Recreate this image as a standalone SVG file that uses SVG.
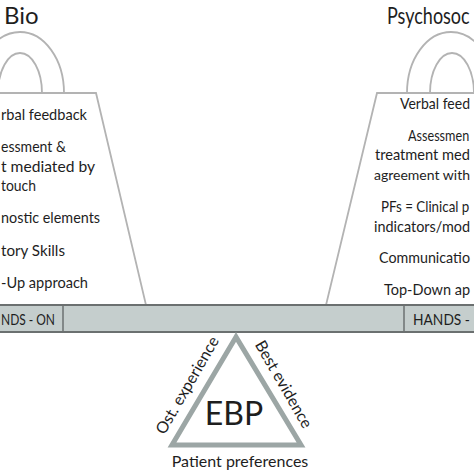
<svg xmlns="http://www.w3.org/2000/svg" width="474" height="474" viewBox="0 0 474 474">
<style>
  .outline { fill: #ffffff; stroke: #b3b3b3; stroke-width: 1.8; }
  .handle { fill: none; stroke: #b3b3b3; stroke-width: 1.8; }
  .t { font-family: Lato, "Liberation Sans", sans-serif; font-size: 15px; fill: #1e1e1e; }
  .title { font-family: Lato, "Liberation Sans", sans-serif; font-size: 24px; fill: #1e1e1e; }
  .beam { fill: #c5cecd; stroke: #6b7070; stroke-width: 2; }
  .div { stroke: #6b7070; stroke-width: 1.5; }
  .tri { fill: #ffffff; stroke: #9ca6a5; stroke-width: 5; stroke-linejoin: miter; }
</style>
<rect x="0" y="0" width="474" height="474" fill="#ffffff"/>

<g id="weight-bio">
  <path class="handle" d="M -24 93 A 44 61 0 0 1 64 93"/>
  <path class="handle" d="M -2 93 A 22 40 0 0 1 42 93"/>
  <polygon class="outline" points="-5,93 96,93 146,305 -5,305"/>
  <text class="title" x="4" y="24">Bio</text>
  <text class="t" x="1" y="120" textLength="86" lengthAdjust="spacingAndGlyphs">rbal feedback</text>
  <text class="t" x="1" y="152" textLength="65" lengthAdjust="spacingAndGlyphs">essment &amp;</text>
  <text class="t" x="1" y="172" textLength="94" lengthAdjust="spacingAndGlyphs">t mediated by</text>
  <text class="t" x="1" y="191" textLength="35" lengthAdjust="spacingAndGlyphs">touch</text>
  <text class="t" x="1" y="223" textLength="99" lengthAdjust="spacingAndGlyphs">nostic elements</text>
  <text class="t" x="1" y="256" textLength="64" lengthAdjust="spacingAndGlyphs">tory Skills</text>
  <text class="t" x="1" y="288" textLength="87" lengthAdjust="spacingAndGlyphs">-Up approach</text>
</g>

<g id="weight-psychosocial">
  <path class="handle" d="M 407 93 A 44 61 0 0 1 495 93"/>
  <path class="handle" d="M 430 93 A 22 40 0 0 1 474 93"/>
  <polygon class="outline" points="377,93 479,93 479,305 326,305"/>
  <text class="title" x="0" y="0" transform="translate(387,24) scale(0.78,1)" textLength="106" lengthAdjust="spacingAndGlyphs">Psychosoc</text>
  <text class="t" x="400" y="109" textLength="70" lengthAdjust="spacingAndGlyphs">Verbal feed</text>
  <text class="t" x="0" y="0" transform="translate(408,141) scale(0.9,1)" textLength="68" lengthAdjust="spacingAndGlyphs">Assessmen</text>
  <text class="t" x="375" y="160" textLength="95" lengthAdjust="spacingAndGlyphs">treatment med</text>
  <text class="t" x="374" y="180" textLength="96" lengthAdjust="spacingAndGlyphs" style="font-size:14px">agreement with</text>
  <text class="t" x="0" y="0" transform="translate(381,212) scale(0.92,1)" textLength="96" lengthAdjust="spacingAndGlyphs">PFs = Clinical p</text>
  <text class="t" x="374" y="232" textLength="96" lengthAdjust="spacingAndGlyphs">indicators/mod</text>
  <text class="t" x="379" y="263" textLength="91" lengthAdjust="spacingAndGlyphs">Communicatio</text>
  <text class="t" x="384" y="295" textLength="86" lengthAdjust="spacingAndGlyphs">Top-Down ap</text>
</g>

<g id="beam">
  <rect class="beam" x="-5" y="305" width="484" height="27"/>
  <line class="div" x1="63" y1="305" x2="63" y2="332"/>
  <line class="div" x1="404" y1="305" x2="404" y2="332"/>
  <text class="t" x="1" y="325" textLength="54" lengthAdjust="spacingAndGlyphs">NDS - ON</text>
  <text class="t" x="413" y="325" textLength="57" lengthAdjust="spacingAndGlyphs">HANDS -</text>
</g>

<g id="fulcrum-ebp">
  <polygon class="tri" points="236,337 172,445 301,445"/>
  <text x="234" y="425" text-anchor="middle" style="font-family: Lato, 'Liberation Sans', sans-serif; font-size: 32px; fill: #1e1e1e;">EBP</text>
  <text class="t" text-anchor="middle" transform="translate(192,388) rotate(-60)" style="font-size:16px">Ost. experience</text>
  <text class="t" text-anchor="middle" transform="translate(279,387) rotate(60)" style="font-size:16px">Best evidence</text>
  <text class="t" x="240" y="467" text-anchor="middle" style="font-size:16px">Patient preferences</text>
</g>
</svg>
